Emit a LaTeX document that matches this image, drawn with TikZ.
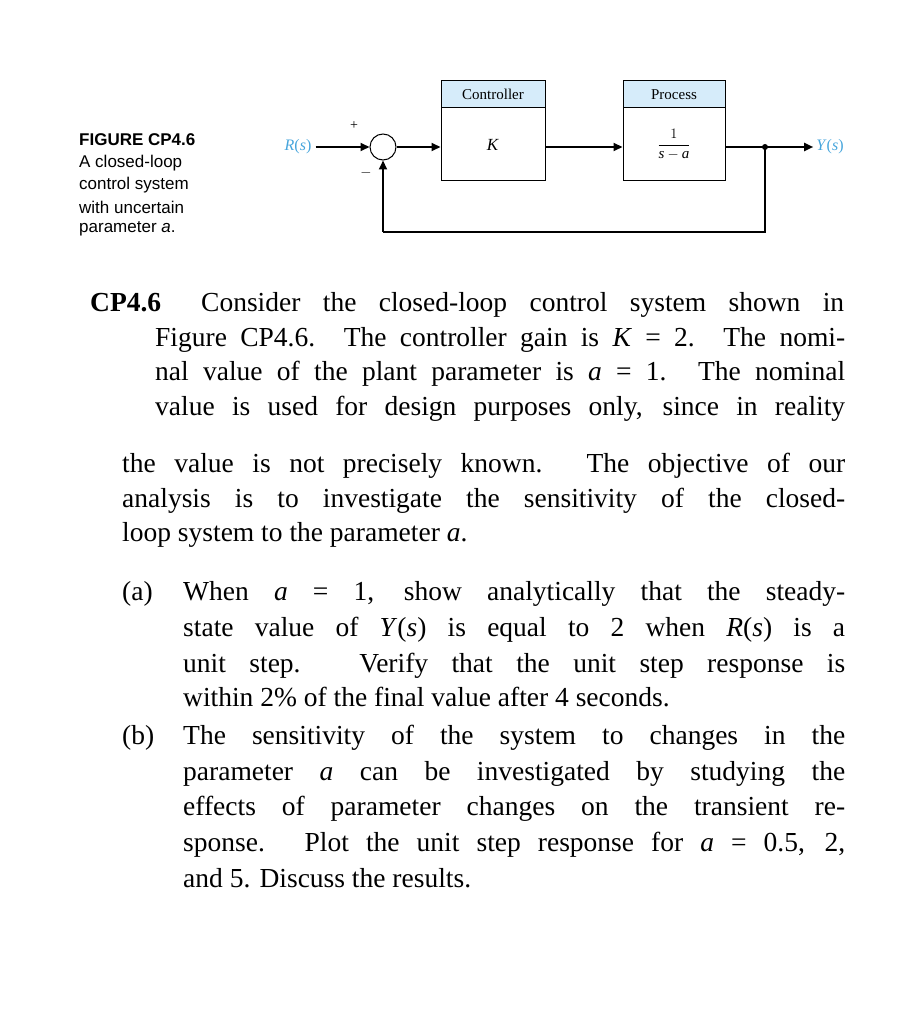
\documentclass[tikz,border=0pt]{standalone}
\usepackage{fontspec}
\setmainfont{Liberation Serif}
\newfontfamily\capfont{Liberation Sans}
\usetikzlibrary{arrows.meta}
\definecolor{sigblue}{RGB}{70,165,220}
\definecolor{hdrblue}{RGB}{214,236,250}
\tikzset{
  blk/.style={draw,line width=1pt,inner sep=0pt},
  hdr/.style={draw,line width=1pt,fill=hdrblue,inner sep=0pt,font=\fontsize{15}{15}\selectfont},
  sig/.style={line width=2pt,-{Triangle[length=9pt,width=8pt]}},
  ln/.style={line width=2pt},
  captxt/.style={anchor=west,inner sep=0pt,font=\capfont\fontsize{17}{17}\selectfont},
  tx/.style={anchor=base west,inner sep=0pt,font=\fontsize{27.5}{30}\selectfont},
  lbl/.style={inner sep=0pt,text=sigblue,font=\fontsize{16}{16}\selectfont}
}
\newcommand{\jl}[1]{\makebox[690pt][s]{#1}}
\newcommand{\jm}[1]{\makebox[723pt][s]{#1}}
\newcommand{\jn}[1]{\makebox[662pt][s]{#1}}
\begin{document}
\begin{tikzpicture}[x=1pt,y=-1pt]
\useasboundingbox (0,0) rectangle (901,1024);
% caption
\node[captxt,font=\capfont\bfseries\fontsize{17}{17}\selectfont] (f1) at (79,140) {FIGURE CP4.6};
\node[captxt] (f2) at (79,163) {A closed-loop};
\node[captxt] (f3) at (79,185) {control system};
\node[captxt] (f4) at (79,207) {with uncertain};
\node[captxt] (f5) at (79,229) {parameter \textit{a}.};
% blocks
\node[hdr,minimum width=104pt,minimum height=27pt] (ch) at (493,94.5) {Controller};
\node[blk,minimum width=104pt,minimum height=73pt] (cb) at (493,144.5) {\fontsize{17}{17}\selectfont\textit{K}};
\node[hdr,minimum width=102pt,minimum height=27pt] (ph) at (674,94.5) {Process};
\node[blk,minimum width=102pt,minimum height=73pt] (pb) at (674,144.5) {\fontsize{15}{15}\selectfont$\displaystyle\frac{1}{\textit{s}-\textit{a}}$};
\node[draw,circle,line width=1pt,minimum size=26pt,inner sep=0pt] (sum) at (383,147) {};
\node[lbl] (r) at (298,147) {\textit{R}(\textit{s})};
\node[lbl] (y) at (830,147) {\textit{Y}(\textit{s})};
\node[inner sep=0pt,font=\fontsize{14}{14}\selectfont] (plus) at (354,126) {+};
\node[inner sep=0pt,font=\fontsize{14}{14}\selectfont] (minus) at (366,173) {$-$};
\coordinate (br) at (765,147);
\coordinate (c1) at (765,232);
\coordinate (c2) at (383,232);
\draw[sig] ([xshift=4pt]r.east) -- (sum.west);
\draw[sig] (sum.east) -- (cb.west|-sum);
\draw[sig] (cb.east|-sum) -- (pb.west|-sum);
\draw[sig] (pb.east|-sum) -- ([xshift=-3pt]y.west);
\draw[ln] (br) -- (c1) -- (c2);
\draw[sig] (c2) -- (sum.south);
\fill (br) circle (3pt);
% main text
\node[tx,font=\bfseries\fontsize{27.5}{30}\selectfont] (cp) at (90,311) {CP4.6};
\node[tx] (l1) at (201,311) {\makebox[643pt][s]{Consider the closed-loop control system shown in}};
\node[tx] (l2) at (155,346) {\jl{Figure CP4.6. The controller gain is \textit{K} = 2. The nomi-}};
\node[tx] (l3) at (155,380) {\jl{nal value of the plant parameter is \textit{a} = 1. The nominal}};
\node[tx] (l4) at (155,415) {\jl{value is used for design purposes only, since in reality}};
\node[tx] (m1) at (122,472) {\jm{the value is not precisely known. The objective of our}};
\node[tx] (m2) at (122,507) {\jm{analysis is to investigate the sensitivity of the closed-}};
\node[tx] (m3) at (122,541) {loop system to the parameter \textit{a}.};
\node[tx] (a0) at (122,600) {(a)};
\node[tx] (a1) at (183,600) {\jn{When \textit{a} = 1, show analytically that the steady-}};
\node[tx] (a2) at (183,636) {\jn{state value of \textit{Y}(\textit{s}) is equal to 2 when \textit{R}(\textit{s}) is a}};
\node[tx] (a3) at (183,672) {\jn{unit step. Verify that the unit step response is}};
\node[tx] (a4) at (183,706) {within 2\% of the final value after 4 seconds.};
\node[tx] (b0) at (122,744) {(b)};
\node[tx] (b1) at (183,744) {\jn{The sensitivity of the system to changes in the}};
\node[tx] (b2) at (183,780) {\jn{parameter \textit{a} can be investigated by studying the}};
\node[tx] (b3) at (183,815) {\jn{effects of parameter changes on the transient re-}};
\node[tx] (b4) at (183,851) {\jn{sponse. Plot the unit step response for \textit{a} = 0.5, 2,}};
\node[tx] (b5) at (183,887) {and 5. Discuss the results.};
\end{tikzpicture}
\end{document}
